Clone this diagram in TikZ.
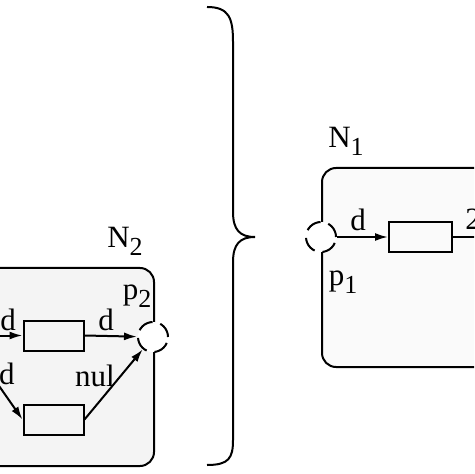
\documentclass[tikz,border=0pt]{standalone}
\usepackage{fontspec}
\setmainfont{Liberation Serif}
\usetikzlibrary{arrows.meta}

\newcommand{\sbs}[1]{\raisebox{-0.55ex}{\fontsize{13}{15}\selectfont #1}}

\tikzset{
  blk/.style={draw, rectangle, minimum width=30pt, minimum height=15pt, inner sep=0pt},
  port/.style={draw, circle, dash pattern=on 8pt off 4pt, fill=white, minimum size=15pt, inner sep=0pt},
  lbl/.style={inner sep=0pt, font=\fontsize{15.5}{18}\selectfont},
  flow/.style={-{Latex[length=6.5pt,width=4pt]}},
}

\begin{document}
\begin{tikzpicture}[x=0.5pt, y=-0.5pt, line width=1pt]
\useasboundingbox (0,0) rectangle (474,474);
\clip (0,0) rectangle (474,474);

% net N2 (left)
\draw[fill=gray!9, rounded corners=7pt] (-40,268) rectangle (154,466);
\node[lbl] (n2) at (125,241) {N\sbs{2}}; \node[lbl] (p2lbl) at (137,296) {p\sbs{2}};
\node[blk] (b2up) at (53.5,335.5) {}; \node[blk] (b2low) at (53.5,419.5) {};
\node[port] (p2) at (153,337) {};
\coordinate (in2up) at (-20,335.5); \coordinate (in2low) at (-10,373);
\draw[flow] (in2up) -- (b2up.west); \node[lbl] (d2a) at (8,320) {d};
\draw[flow] (b2up.east) -- (p2); \node[lbl] (d2b) at (106,320) {d};
\draw[flow] (in2low) -- (b2low.west); \node[lbl] (d2c) at (7,374) {d};
\draw[flow] (b2low.east) -- (p2); \node[lbl] (nul) at (95,376) {nul};

% brace
\draw (207,7) .. controls (229,7) and (233,18) .. (233,42) -- (233,212) .. controls (233,230) and (240,237) .. (255,237) .. controls (240,237) and (233,244) .. (233,262) -- (233,440) .. controls (233,458) and (229,465) .. (207,465);

% net N1 (right)
\draw[fill=gray!4, rounded corners=7pt] (322,168) rectangle (530,367);
\node[lbl] (n1) at (346,141) {N\sbs{1}}; \node[lbl] (p1lbl) at (343,282) {p\sbs{1}};
\node[port] (p1) at (321,237) {};
\node[blk, minimum width=31.5pt] (b1) at (420.5,237) {};
\coordinate (out1) at (500,237);
\draw[flow] (p1) -- (b1.west); \node[lbl] (d1) at (358,220) {d};
\draw (b1.east) -- (out1); \node[lbl] (two) at (473,219) {2};
\end{tikzpicture}
\end{document}
